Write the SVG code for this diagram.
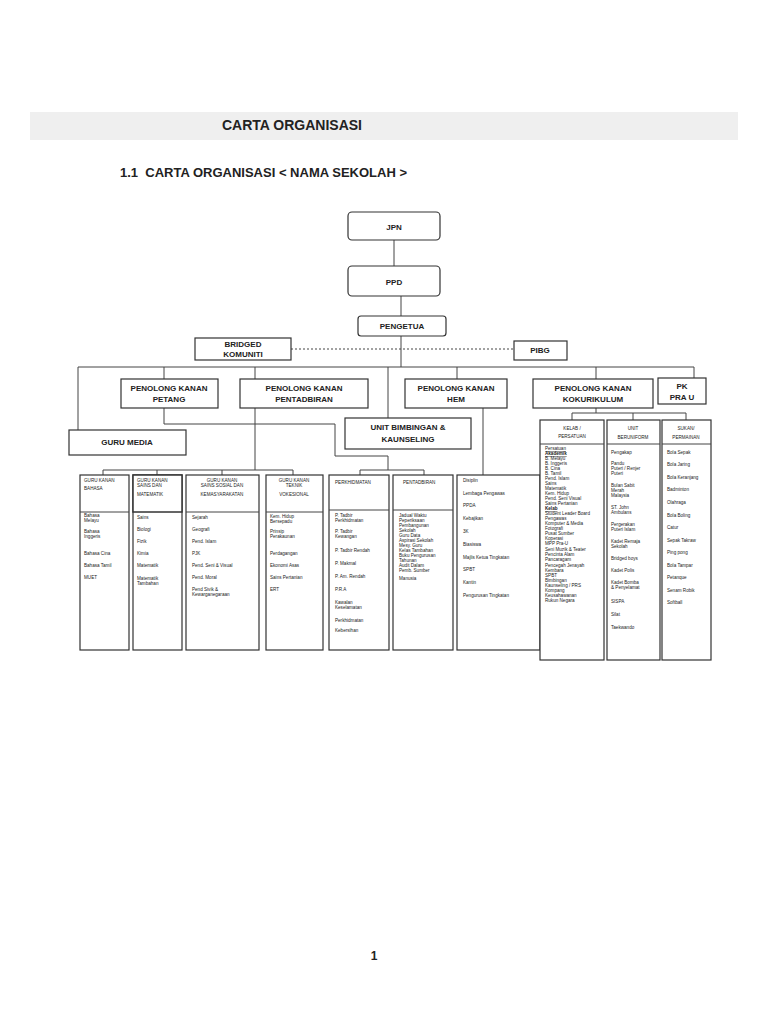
<svg xmlns="http://www.w3.org/2000/svg" width="768" height="1024" viewBox="0 0 768 1024">
<style>
text{font-family:"Liberation Sans",Arial,sans-serif;fill:#222}
.b{fill:#fff;stroke:#333;stroke-width:1.2}
.n{font-weight:bold;font-size:8px;text-anchor:middle}
.s{font-size:4.6px}
.h{font-size:4.6px;text-anchor:middle}
.c{fill:none;stroke:#444;stroke-width:1}
</style>
<rect width="768" height="1024" fill="#fff"/>
<rect x="30" y="112" width="708" height="28" fill="#efefef"/>
<text x="222" y="130" style="font-weight:bold;font-size:14px">CARTA ORGANISASI</text>
<text x="120" y="177" style="font-weight:bold;font-size:13px" xml:space="preserve">1.1  CARTA ORGANISASI &lt; NAMA SEKOLAH &gt;</text>
<g id="connectors">
<path class="c" d="M394 240V266M401 296V316M401 336V367M78 367H694M78 367V430M164 367V379M255 367V379M388 367V418M457 367V379M596 367V379M694 367V378"/>
<path class="c" stroke-dasharray="2,2" d="M291 349H514"/>
<path class="c" d="M164 408V424H335V456H388V470M360 470H424M360 470V475M424 470V475"/>
<path class="c" d="M255 408V470M103 470H293M103 470V475M157 470V475M222 470V475M293 470V475"/>
<path class="c" d="M483 408V475"/>
<path class="c" d="M596 408V413M572 413H686M572 413V420M633 413V420M686 413V420"/>
</g>
<g id="jpn"><rect class="b" x="348" y="212" width="92" height="28" rx="4"/><text class="n" x="394" y="230">JPN</text></g>
<g id="ppd"><rect class="b" x="348" y="266" width="92" height="30" rx="4"/><text class="n" x="394" y="285">PPD</text></g>
<g id="pengetua"><rect class="b" x="358" y="316" width="88" height="20" rx="3"/><text class="n" x="402" y="329">PENGETUA</text></g>
<g id="bridged"><rect class="b" x="195" y="338" width="96" height="22"/><text class="n" x="243" y="347">BRIDGED</text><text class="n" x="243" y="357">KOMUNITI</text></g>
<g id="pibg"><rect class="b" x="514" y="341" width="53" height="19"/><text class="n" x="540" y="353">PIBG</text></g>
<g id="petang"><rect class="b" x="121" y="379" width="97" height="29"/><text class="n" x="169" y="391">PENOLONG KANAN</text><text class="n" x="169" y="402">PETANG</text></g>
<g id="pentadbiran"><rect class="b" x="240" y="379" width="128" height="29"/><text class="n" x="304" y="391">PENOLONG KANAN</text><text class="n" x="304" y="402">PENTADBIRAN</text></g>
<g id="hem"><rect class="b" x="405" y="379" width="102" height="29"/><text class="n" x="456" y="391">PENOLONG KANAN</text><text class="n" x="456" y="402">HEM</text></g>
<g id="koku"><rect class="b" x="533" y="379" width="120" height="29"/><text class="n" x="593" y="391">PENOLONG KANAN</text><text class="n" x="593" y="402">KOKURIKULUM</text></g>
<g id="prau"><rect class="b" x="658" y="378" width="48" height="26"/><text class="n" x="682" y="389">PK</text><text class="n" x="682" y="400">PRA U</text></g>
<g id="gurumedia"><rect class="b" x="69" y="430" width="117" height="25"/><text class="n" x="127" y="445">GURU MEDIA</text></g>
<g id="ubk"><rect class="b" x="345" y="418" width="126" height="31"/><text class="n" x="408" y="430">UNIT BIMBINGAN &amp;</text><text class="n" x="408" y="442">KAUNSELING</text></g>
<g id="bahasa"><rect class="b" x="80" y="475" width="49" height="175"/><line class="c" x1="80" y1="512" x2="129" y2="512"/>
<text class="s" x="84" y="482">GURU KANAN</text><text class="s" x="84" y="490">BAHASA</text>
<text class="s" x="84" y="517">Bahasa</text><text class="s" x="84" y="522">Melayu</text><text class="s" x="84" y="533">Bahasa</text><text class="s" x="84" y="538">Inggeris</text><text class="s" x="84" y="555">Bahasa Cina</text><text class="s" x="84" y="567">Bahasa Tamil</text><text class="s" x="84" y="579">MUET</text></g>
<g id="sains"><rect class="b" x="133" y="475" width="49" height="175"/><rect class="b" x="133" y="475" width="49" height="37" style="stroke-width:1.5"/>
<text class="s" x="137" y="482">GURU KANAN</text><text class="s" x="137" y="487">SAINS DAN</text><text class="s" x="137" y="496">MATEMATIK</text>
<text class="s" x="137" y="519">Sains</text><text class="s" x="137" y="531">Biologi</text><text class="s" x="137" y="543">Fizik</text><text class="s" x="137" y="555">Kimia</text><text class="s" x="137" y="567">Matematik</text><text class="s" x="137" y="580">Matematik</text><text class="s" x="137" y="585">Tambahan</text></g>
<g id="sosial"><rect class="b" x="186" y="475" width="73" height="175"/><line class="c" x1="186" y1="512" x2="259" y2="512"/>
<text class="h" x="222" y="482">GURU KANAN</text><text class="h" x="222" y="487">SAINS SOSIAL DAN</text><text class="h" x="222" y="496">KEMASYARAKATAN</text>
<text class="s" x="192" y="519">Sejarah</text><text class="s" x="192" y="531">Geografi</text><text class="s" x="192" y="543">Pend. Islam</text><text class="s" x="192" y="555">PJK</text><text class="s" x="192" y="567">Pend. Seni &amp; Visual</text><text class="s" x="192" y="579">Pend. Moral</text><text class="s" x="192" y="591">Pend Sivik &amp;</text><text class="s" x="192" y="596">Kewarganegaraan</text></g>
<g id="teknik"><rect class="b" x="266" y="475" width="57" height="175"/><line class="c" x1="266" y1="512" x2="323" y2="512"/>
<text class="h" x="294" y="482">GURU KANAN</text><text class="h" x="294" y="487">TEKNIK</text><text class="h" x="294" y="496">VOKESIONAL</text>
<text class="s" x="270" y="518">Kem. Hidup</text><text class="s" x="270" y="523">Bersepadu</text><text class="s" x="270" y="533">Prinsip</text><text class="s" x="270" y="538">Perakaunan</text><text class="s" x="270" y="555">Perdagangan</text><text class="s" x="270" y="567">Ekonomi Asas</text><text class="s" x="270" y="579">Sains Pertanian</text><text class="s" x="270" y="591">ERT</text></g>
<g id="perkhidmatan"><rect class="b" x="329" y="475" width="60" height="175"/><line class="c" x1="329" y1="510" x2="389" y2="510"/>
<text class="s" x="335" y="484">PERKHIDMATAN</text>
<text class="s" x="335" y="517">P. Tadbir</text><text class="s" x="335" y="522">Perkhidmatan</text><text class="s" x="335" y="533">P. Tadbir</text><text class="s" x="335" y="538">Kewangan</text><text class="s" x="335" y="552">P. Tadbir Rendah</text><text class="s" x="335" y="565">P. Makmal</text><text class="s" x="335" y="578">P. Am. Rendah</text><text class="s" x="335" y="591">P.R.A</text><text class="s" x="335" y="604">Kawalan</text><text class="s" x="335" y="609">Keselamatan</text><text class="s" x="335" y="622">Perkhidmatan</text><text class="s" x="335" y="632">Kebersihan</text></g>
<g id="pentadbiran2"><rect class="b" x="393" y="475" width="60" height="175"/><line class="c" x1="393" y1="510" x2="453" y2="510"/>
<text class="s" x="403" y="484">PENTADBIRAN</text>
<text class="s" x="399" y="517">Jadual Waktu</text><text class="s" x="399" y="522">Peperiksaan</text><text class="s" x="399" y="527">Pembangunan</text><text class="s" x="399" y="532">Sekolah</text><text class="s" x="399" y="537">Guru Data</text><text class="s" x="399" y="542">Aspirasi Sekolah</text><text class="s" x="399" y="547">Mesy. Guru</text><text class="s" x="399" y="552">Kelas Tambahan</text><text class="s" x="399" y="557">Buku Pengurusan</text><text class="s" x="399" y="562">Tahunan</text><text class="s" x="399" y="567">Audit Dalam</text><text class="s" x="399" y="572">Pemb. Sumber</text><text class="s" x="399" y="580">Manusia</text></g>
<g id="disiplin"><rect class="b" x="457" y="475" width="83" height="175"/>
<text class="s" x="463" y="482">Disiplin</text><text class="s" x="463" y="495">Lembaga  Pengawas</text><text class="s" x="463" y="507">PPDA</text><text class="s" x="463" y="520">Kebajikan</text><text class="s" x="463" y="533">3K</text><text class="s" x="463" y="546">Biasiswa</text><text class="s" x="463" y="559">Majlis Ketua Tingkatan</text><text class="s" x="463" y="571">SPBT</text><text class="s" x="463" y="584">Kantin</text><text class="s" x="463" y="597">Pengurusan Tingkatan</text></g>
<g id="kelab"><rect class="b" x="540" y="420" width="64" height="240"/><line class="c" x1="540" y1="444" x2="604" y2="444"/>
<text class="h" x="572" y="430">KELAB /</text><text class="h" x="572" y="438">PERSATUAN</text>
<g class="s"><text class="s" x="545" y="450" text-decoration="underline">Persatuan</text><text class="s" x="545" y="455" text-decoration="underline" font-weight="bold">Akademik</text><text class="s" x="545" y="460">B. Melayu</text><text class="s" x="545" y="465">B. Inggeris</text><text class="s" x="545" y="470">B. Cina</text><text class="s" x="545" y="475">B. Tamil</text><text class="s" x="545" y="480">Pend. Islam</text><text class="s" x="545" y="485">Sains</text><text class="s" x="545" y="490">Matematik</text><text class="s" x="545" y="495">Kem. Hidup</text><text class="s" x="545" y="500">Pend. Seni Visual</text><text class="s" x="545" y="505">Sains Pertanian</text><text class="s" x="545" y="510" text-decoration="underline" font-weight="bold">Kelab</text><text class="s" x="545" y="515">Student Leader Board</text><text class="s" x="545" y="520">Pengawas</text><text class="s" x="545" y="525">Komputer &amp; Media</text><text class="s" x="545" y="530">Fotografi</text><text class="s" x="545" y="535">Pusat Sumber</text><text class="s" x="545" y="540">Koperasi</text><text class="s" x="545" y="545">MPP Pra-U</text><text class="s" x="545" y="551">Seni Muzik &amp; Teater</text><text class="s" x="545" y="556">Pencinta Alam</text><text class="s" x="545" y="561">Pancaragam</text><text class="s" x="545" y="567">Pencegah Jenayah</text><text class="s" x="545" y="572">Kembara</text><text class="s" x="545" y="577">SPBT</text><text class="s" x="545" y="582">Bimbingan</text><text class="s" x="545" y="587">Kaunseling / PRS</text><text class="s" x="545" y="592">Kompang</text><text class="s" x="545" y="597">Keusahawanan</text><text class="s" x="545" y="602">Rukun Negara</text></g></g>
<g id="unit"><rect class="b" x="607" y="420" width="53" height="240"/><line class="c" x1="607" y1="444" x2="660" y2="444"/>
<text class="h" x="633" y="430">UNIT</text><text class="h" x="633" y="439">BERUNIFORM</text>
<text class="s" x="611" y="454">Pengakap</text><text class="s" x="611" y="465">Pandu</text><text class="s" x="611" y="470">Puteri / Renjer</text><text class="s" x="611" y="475">Puteri</text><text class="s" x="611" y="487">Bulan Sabit</text><text class="s" x="611" y="492">Merah</text><text class="s" x="611" y="497">Malaysia</text><text class="s" x="611" y="509">ST. John</text><text class="s" x="611" y="514">Ambulans</text><text class="s" x="611" y="526">Pergerakan</text><text class="s" x="611" y="531">Puteri Islam</text><text class="s" x="611" y="543">Kadet Remaja</text><text class="s" x="611" y="548">Sekolah</text><text class="s" x="611" y="560">Bridged boys</text><text class="s" x="611" y="572">Kadet Polis</text><text class="s" x="611" y="584">Kadet Bomba</text><text class="s" x="611" y="589">&amp; Penyelamat</text><text class="s" x="611" y="603">SISPA</text><text class="s" x="611" y="616">Silat</text><text class="s" x="611" y="629">Taekwando</text></g>
<g id="sukan"><rect class="b" x="662" y="420" width="49" height="240"/><line class="c" x1="662" y1="444" x2="711" y2="444"/>
<text class="h" x="686" y="430">SUKAN/</text><text class="h" x="686" y="439">PERMAINAN</text>
<text class="s" x="667" y="454">Bola Sepak</text><text class="s" x="667" y="466">Bola Jaring</text><text class="s" x="667" y="479">Bola Keranjang</text><text class="s" x="667" y="491">Badminton</text><text class="s" x="667" y="504">Olahraga</text><text class="s" x="667" y="517">Bola Boling</text><text class="s" x="667" y="529">Catur</text><text class="s" x="667" y="542">Sepak Takraw</text><text class="s" x="667" y="554">Ping pong</text><text class="s" x="667" y="567">Bola Tampar</text><text class="s" x="667" y="579">Petanque</text><text class="s" x="667" y="592">Senam Robik</text><text class="s" x="667" y="604">Softball</text></g>
<text x="374" y="960" style="font-weight:bold;font-size:12px;text-anchor:middle">1</text>
</svg>
